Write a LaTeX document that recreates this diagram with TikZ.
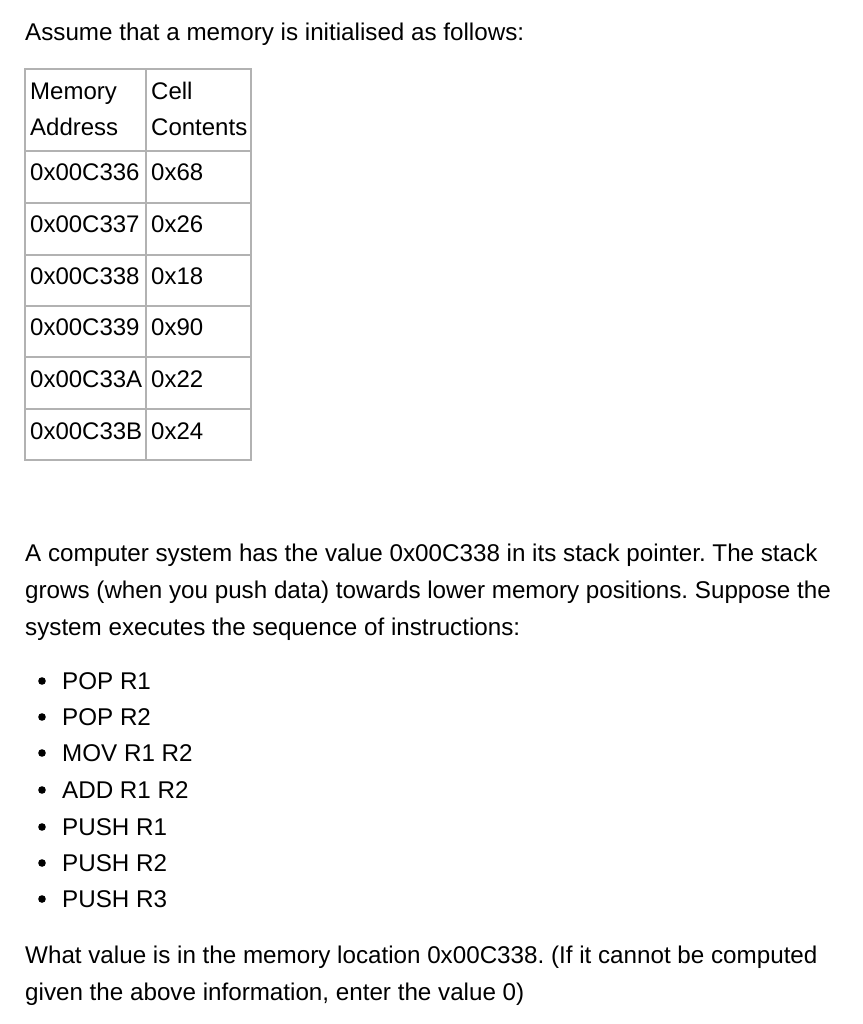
\documentclass[tikz,border=0pt]{standalone}
\usepackage{fontspec}
\setmainfont{Liberation Sans}
\frenchspacing
\begin{document}
\begin{tikzpicture}[x=1pt,y=-1pt,
  txt/.style={anchor=base west,inner sep=0pt,font=\fontsize{24.2}{28}\selectfont},
  ttxt/.style={anchor=base west,inner sep=0pt,font=\fontsize{24}{28}\selectfont},
  grid/.style={draw=black!30,line width=1.2pt}]
\useasboundingbox (0,0) rectangle (862,1024);
\node[txt] (t1) at (25,41) {Assume that a memory is initialised as follows:};
% table
\draw[grid] (25,69) rectangle (251,460);
\draw[grid] (146,69) -- (146,460);
\foreach \y in {151,203,255,306,357,409} \draw[grid] (25,\y) -- (251,\y);
\node[ttxt] (h1) at (30,100) {Memory};
\node[ttxt] (h2) at (30,136) {Address};
\node[ttxt] (h3) at (151,100) {Cell};
\node[ttxt] (h4) at (151,136) {Contents};
\foreach \a/\c/\y [count=\i] in {0x00C336/0x68/181,0x00C337/0x26/233,0x00C338/0x18/284,0x00C339/0x90/335,0x00C33A/0x22/387,0x00C33B/0x24/439}{
  \node[ttxt] (a\i) at (30,\y) {\a};
  \node[ttxt] (c\i) at (151,\y) {\c};
}
\node[txt] (p1) at (25,561) {A computer system has the value 0x00C338 in its stack pointer. The stack};
\node[txt] (p2) at (25,598) {grows (when you push data) towards lower memory positions. Suppose the};
\node[txt] (p3) at (25,635) {system executes the sequence of instructions:};
\foreach \s/\y [count=\i] in {POP R1/689,POP R2/725,MOV R1 R2/761,ADD R1 R2/798,PUSH R1/835,PUSH R2/871,PUSH R3/907}{
  \fill (42,\y-8) circle (3.8);
  \node[txt] (b\i) at (62,\y) {\s};
}
\node[txt] (q1) at (25,963) {What value is in the memory location 0x00C338. (If it cannot be computed};
\node[txt] (q2) at (25,1000) {given the above information, enter the value 0)};
\end{tikzpicture}
\end{document}
